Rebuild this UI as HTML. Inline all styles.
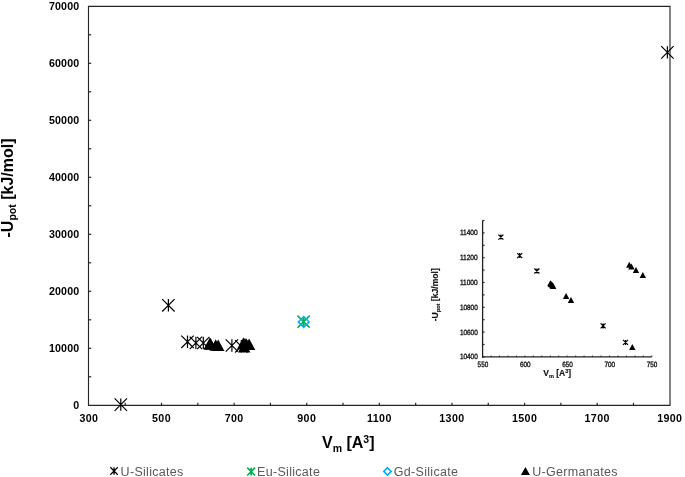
<!DOCTYPE html><html><head><meta charset="utf-8"><style>html,body{margin:0;padding:0;background:#fff;}svg{display:block;}</style></head><body><svg width="685" height="477" viewBox="0 0 685 477">
<rect width="685" height="477" fill="#fff"/>
<path d="M88.5,6.4H670V405.4H88.5Z" fill="none" stroke="#262626" stroke-width="1.15"/>
<line x1="88.5" x2="91.2" y1="376.80" y2="376.80" stroke="#262626" stroke-width="1.2"/>
<line x1="88.5" x2="91.2" y1="348.30" y2="348.30" stroke="#262626" stroke-width="1.2"/>
<line x1="88.5" x2="91.2" y1="319.80" y2="319.80" stroke="#262626" stroke-width="1.2"/>
<line x1="88.5" x2="91.2" y1="291.30" y2="291.30" stroke="#262626" stroke-width="1.2"/>
<line x1="88.5" x2="91.2" y1="262.80" y2="262.80" stroke="#262626" stroke-width="1.2"/>
<line x1="88.5" x2="91.2" y1="234.30" y2="234.30" stroke="#262626" stroke-width="1.2"/>
<line x1="88.5" x2="91.2" y1="205.80" y2="205.80" stroke="#262626" stroke-width="1.2"/>
<line x1="88.5" x2="91.2" y1="177.30" y2="177.30" stroke="#262626" stroke-width="1.2"/>
<line x1="88.5" x2="91.2" y1="148.80" y2="148.80" stroke="#262626" stroke-width="1.2"/>
<line x1="88.5" x2="91.2" y1="120.30" y2="120.30" stroke="#262626" stroke-width="1.2"/>
<line x1="88.5" x2="91.2" y1="91.80" y2="91.80" stroke="#262626" stroke-width="1.2"/>
<line x1="88.5" x2="91.2" y1="63.30" y2="63.30" stroke="#262626" stroke-width="1.2"/>
<line x1="88.5" x2="91.2" y1="34.80" y2="34.80" stroke="#262626" stroke-width="1.2"/>
<line x1="125.21" x2="125.21" y1="405.5" y2="402.8" stroke="#262626" stroke-width="1.2"/>
<line x1="161.51" x2="161.51" y1="405.5" y2="402.8" stroke="#262626" stroke-width="1.2"/>
<line x1="197.82" x2="197.82" y1="405.5" y2="402.8" stroke="#262626" stroke-width="1.2"/>
<line x1="234.12" x2="234.12" y1="405.5" y2="402.8" stroke="#262626" stroke-width="1.2"/>
<line x1="270.43" x2="270.43" y1="405.5" y2="402.8" stroke="#262626" stroke-width="1.2"/>
<line x1="306.74" x2="306.74" y1="405.5" y2="402.8" stroke="#262626" stroke-width="1.2"/>
<line x1="343.04" x2="343.04" y1="405.5" y2="402.8" stroke="#262626" stroke-width="1.2"/>
<line x1="379.35" x2="379.35" y1="405.5" y2="402.8" stroke="#262626" stroke-width="1.2"/>
<line x1="415.66" x2="415.66" y1="405.5" y2="402.8" stroke="#262626" stroke-width="1.2"/>
<line x1="451.96" x2="451.96" y1="405.5" y2="402.8" stroke="#262626" stroke-width="1.2"/>
<line x1="488.27" x2="488.27" y1="405.5" y2="402.8" stroke="#262626" stroke-width="1.2"/>
<line x1="524.58" x2="524.58" y1="405.5" y2="402.8" stroke="#262626" stroke-width="1.2"/>
<line x1="560.88" x2="560.88" y1="405.5" y2="402.8" stroke="#262626" stroke-width="1.2"/>
<line x1="597.19" x2="597.19" y1="405.5" y2="402.8" stroke="#262626" stroke-width="1.2"/>
<line x1="633.49" x2="633.49" y1="405.5" y2="402.8" stroke="#262626" stroke-width="1.2"/>
<g font-family="Liberation Sans, Arial, sans-serif" font-weight="bold" font-size="10.67" fill="#000" letter-spacing="0.1" text-anchor="end">
<text x="79.2" y="409.00">0</text>
<text x="79.2" y="352.00">10000</text>
<text x="79.2" y="295.00">20000</text>
<text x="79.2" y="238.00">30000</text>
<text x="79.2" y="181.00">40000</text>
<text x="79.2" y="124.00">50000</text>
<text x="79.2" y="67.00">60000</text>
<text x="79.2" y="10.00">70000</text>
</g>
<g font-family="Liberation Sans, Arial, sans-serif" font-weight="bold" font-size="10.67" fill="#000" letter-spacing="0.4" text-anchor="middle">
<text x="88.90" y="422">300</text>
<text x="161.51" y="422">500</text>
<text x="234.12" y="422">700</text>
<text x="306.74" y="422">900</text>
<text x="379.35" y="422">1100</text>
<text x="451.96" y="422">1300</text>
<text x="524.58" y="422">1500</text>
<text x="597.19" y="422">1700</text>
<text x="669.80" y="422">1900</text>
</g>
<text x="322" y="448.2" font-family="Liberation Sans, Arial, sans-serif" font-weight="bold" font-size="16" fill="#000">V<tspan font-size="10.5" dy="3.5">m</tspan><tspan dy="-3.5"> [A</tspan><tspan font-size="10.5" dy="-5.2">3</tspan><tspan dy="5.2">]</tspan></text>
<text transform="translate(12.7,237.5) rotate(-90)" font-family="Liberation Sans, Arial, sans-serif" font-weight="bold" font-size="16" fill="#000">-U<tspan font-size="10.5" dy="3.5">pot</tspan><tspan dy="-3.5"> [kJ/mol]</tspan></text>
<path d="M114.60,398.40L127.00,410.80M114.60,410.80L127.00,398.40M120.80,398.40L120.80,410.80" stroke="#000" stroke-width="1.2" fill="none"/>
<path d="M162.20,299.10L174.60,311.50M162.20,311.50L174.60,299.10M168.40,299.10L168.40,311.50" stroke="#000" stroke-width="1.2" fill="none"/>
<path d="M181.30,335.60L193.70,348.00M181.30,348.00L193.70,335.60M187.50,335.60L187.50,348.00" stroke="#000" stroke-width="1.2" fill="none"/>
<path d="M189.70,336.70L202.10,349.10M189.70,349.10L202.10,336.70M195.90,336.70L195.90,349.10" stroke="#000" stroke-width="1.2" fill="none"/>
<path d="M197.10,336.80L209.50,349.20M197.10,349.20L209.50,336.80M203.30,336.80L203.30,349.20" stroke="#000" stroke-width="1.2" fill="none"/>
<path d="M225.70,339.30L238.10,351.70M225.70,351.70L238.10,339.30M231.90,339.30L231.90,351.70" stroke="#000" stroke-width="1.2" fill="none"/>
<path d="M235.10,340.10L247.50,352.50M235.10,352.50L247.50,340.10M241.30,340.10L241.30,352.50" stroke="#000" stroke-width="1.2" fill="none"/>
<path d="M661.20,46.20L673.60,58.60M661.20,58.60L673.60,46.20M667.40,46.20L667.40,58.60" stroke="#000" stroke-width="1.2" fill="none"/>
<path d="M209.80,337.70L216.00,349.30L203.60,349.30Z" fill="#000"/>
<path d="M210.20,337.90L216.40,349.50L204.00,349.50Z" fill="#000"/>
<path d="M210.60,338.10L216.80,349.70L204.40,349.70Z" fill="#000"/>
<path d="M215.70,339.20L221.90,350.80L209.50,350.80Z" fill="#000"/>
<path d="M218.20,339.40L224.40,351.00L212.00,351.00Z" fill="#000"/>
<path d="M243.30,337.40L249.50,349.00L237.10,349.00Z" fill="#000"/>
<path d="M244.00,337.70L250.20,349.30L237.80,349.30Z" fill="#000"/>
<path d="M246.00,337.90L252.20,349.50L239.80,349.50Z" fill="#000"/>
<path d="M249.10,338.40L255.30,350.00L242.90,350.00Z" fill="#000"/>
<path d="M244.20,340.80L250.40,352.40L238.00,352.40Z" fill="#000"/>
<path d="M297.5,315.6L309.7,327.8M297.5,327.8L309.7,315.6" stroke="#00B050" stroke-width="1.6" fill="none"/>
<path d="M303.6,317.2V326.4" stroke="#00B050" stroke-width="2.2" fill="none"/>
<path d="M303.70,316.50L309.10,321.90L303.70,327.30L298.30,321.90Z" stroke="#00B0F0" stroke-width="1.55" fill="none"/>
<line x1="482.60" x2="482.60" y1="220.50" y2="357.60" stroke="#202020" stroke-width="1.3"/>
<line x1="481.95" x2="651.80" y1="356.90" y2="356.90" stroke="#202020" stroke-width="1.4"/>
<line x1="482.60" x2="484.50" y1="356.90" y2="356.90" stroke="#202020" stroke-width="1.2"/>
<line x1="482.60" x2="484.50" y1="344.50" y2="344.50" stroke="#202020" stroke-width="1.2"/>
<line x1="482.60" x2="484.50" y1="332.10" y2="332.10" stroke="#202020" stroke-width="1.2"/>
<line x1="482.60" x2="484.50" y1="319.70" y2="319.70" stroke="#202020" stroke-width="1.2"/>
<line x1="482.60" x2="484.50" y1="307.30" y2="307.30" stroke="#202020" stroke-width="1.2"/>
<line x1="482.60" x2="484.50" y1="294.90" y2="294.90" stroke="#202020" stroke-width="1.2"/>
<line x1="482.60" x2="484.50" y1="282.50" y2="282.50" stroke="#202020" stroke-width="1.2"/>
<line x1="482.60" x2="484.50" y1="270.10" y2="270.10" stroke="#202020" stroke-width="1.2"/>
<line x1="482.60" x2="484.50" y1="257.70" y2="257.70" stroke="#202020" stroke-width="1.2"/>
<line x1="482.60" x2="484.50" y1="245.30" y2="245.30" stroke="#202020" stroke-width="1.2"/>
<line x1="482.60" x2="484.50" y1="232.90" y2="232.90" stroke="#202020" stroke-width="1.2"/>
<line x1="482.60" x2="484.50" y1="220.50" y2="220.50" stroke="#202020" stroke-width="1.2"/>
<line x1="482.60" x2="482.60" y1="356.90" y2="355.50" stroke="#202020" stroke-width="0.9"/>
<line x1="491.06" x2="491.06" y1="356.90" y2="355.50" stroke="#202020" stroke-width="0.9"/>
<line x1="499.52" x2="499.52" y1="356.90" y2="355.50" stroke="#202020" stroke-width="0.9"/>
<line x1="507.98" x2="507.98" y1="356.90" y2="355.50" stroke="#202020" stroke-width="0.9"/>
<line x1="516.44" x2="516.44" y1="356.90" y2="355.50" stroke="#202020" stroke-width="0.9"/>
<line x1="524.90" x2="524.90" y1="356.90" y2="355.50" stroke="#202020" stroke-width="0.9"/>
<line x1="533.36" x2="533.36" y1="356.90" y2="355.50" stroke="#202020" stroke-width="0.9"/>
<line x1="541.82" x2="541.82" y1="356.90" y2="355.50" stroke="#202020" stroke-width="0.9"/>
<line x1="550.28" x2="550.28" y1="356.90" y2="355.50" stroke="#202020" stroke-width="0.9"/>
<line x1="558.74" x2="558.74" y1="356.90" y2="355.50" stroke="#202020" stroke-width="0.9"/>
<line x1="567.20" x2="567.20" y1="356.90" y2="355.50" stroke="#202020" stroke-width="0.9"/>
<line x1="575.66" x2="575.66" y1="356.90" y2="355.50" stroke="#202020" stroke-width="0.9"/>
<line x1="584.12" x2="584.12" y1="356.90" y2="355.50" stroke="#202020" stroke-width="0.9"/>
<line x1="592.58" x2="592.58" y1="356.90" y2="355.50" stroke="#202020" stroke-width="0.9"/>
<line x1="601.04" x2="601.04" y1="356.90" y2="355.50" stroke="#202020" stroke-width="0.9"/>
<line x1="609.50" x2="609.50" y1="356.90" y2="355.50" stroke="#202020" stroke-width="0.9"/>
<line x1="617.96" x2="617.96" y1="356.90" y2="355.50" stroke="#202020" stroke-width="0.9"/>
<line x1="626.42" x2="626.42" y1="356.90" y2="355.50" stroke="#202020" stroke-width="0.9"/>
<line x1="634.88" x2="634.88" y1="356.90" y2="355.50" stroke="#202020" stroke-width="0.9"/>
<line x1="643.34" x2="643.34" y1="356.90" y2="355.50" stroke="#202020" stroke-width="0.9"/>
<line x1="651.80" x2="651.80" y1="356.90" y2="355.50" stroke="#202020" stroke-width="0.9"/>
<g font-family="Liberation Sans, Arial, sans-serif" font-size="7.6" fill="#111" stroke="#111" stroke-width="0.35" text-rendering="geometricPrecision" text-anchor="end">
<text x="477.7" y="359.30" textLength="17.8" lengthAdjust="spacingAndGlyphs">10400</text>
<text x="477.7" y="334.50" textLength="17.8" lengthAdjust="spacingAndGlyphs">10600</text>
<text x="477.7" y="309.70" textLength="17.8" lengthAdjust="spacingAndGlyphs">10800</text>
<text x="477.7" y="284.90" textLength="17.8" lengthAdjust="spacingAndGlyphs">11000</text>
<text x="477.7" y="260.10" textLength="17.8" lengthAdjust="spacingAndGlyphs">11200</text>
<text x="477.7" y="235.30" textLength="17.8" lengthAdjust="spacingAndGlyphs">11400</text>
</g>
<g font-family="Liberation Sans, Arial, sans-serif" font-size="7.6" fill="#111" stroke="#111" stroke-width="0.35" text-rendering="geometricPrecision" text-anchor="middle">
<text x="482.90" y="367.0" textLength="10.6" lengthAdjust="spacingAndGlyphs">550</text>
<text x="525.20" y="367.0" textLength="10.6" lengthAdjust="spacingAndGlyphs">600</text>
<text x="567.50" y="367.0" textLength="10.6" lengthAdjust="spacingAndGlyphs">650</text>
<text x="609.80" y="367.0" textLength="10.6" lengthAdjust="spacingAndGlyphs">700</text>
<text x="652.10" y="367.0" textLength="10.6" lengthAdjust="spacingAndGlyphs">750</text>
</g>
<text x="543.2" y="376.0" textLength="28" lengthAdjust="spacingAndGlyphs" font-family="Liberation Sans, Arial, sans-serif" font-weight="bold" font-size="9.2" fill="#111" stroke="#111" stroke-width="0.15">V<tspan font-size="6" dy="1.8">m</tspan><tspan dy="-1.8"> [A</tspan><tspan font-size="6" dy="-3.5">3</tspan><tspan dy="3.5">]</tspan></text>
<text transform="translate(438.4,321.3) rotate(-90)" font-family="Liberation Sans, Arial, sans-serif" font-weight="bold" font-size="8.6" fill="#111" stroke="#111" stroke-width="0.15">-U<tspan font-size="5.6" dy="1.6">pot</tspan><tspan dy="-1.6"> [kJ/mol]</tspan></text>
<path d="M498.40,234.60L503.40,239.60M498.40,239.60L503.40,234.60M500.90,234.60L500.90,239.60" stroke="#000" stroke-width="1.2" fill="none"/>
<path d="M517.20,253.10L522.20,258.10M517.20,258.10L522.20,253.10M519.70,253.10L519.70,258.10" stroke="#000" stroke-width="1.2" fill="none"/>
<path d="M534.40,268.50L539.40,273.50M534.40,273.50L539.40,268.50M536.90,268.50L536.90,273.50" stroke="#000" stroke-width="1.2" fill="none"/>
<path d="M600.60,323.40L605.60,328.40M600.60,328.40L605.60,323.40M603.10,323.40L603.10,328.40" stroke="#000" stroke-width="1.2" fill="none"/>
<path d="M623.00,339.90L628.00,344.90M623.00,344.90L628.00,339.90M625.50,339.90L625.50,344.90" stroke="#000" stroke-width="1.2" fill="none"/>
<path d="M550.40,280.20L553.60,286.20L547.20,286.20Z" fill="#000"/>
<path d="M551.10,280.90L554.30,286.90L547.90,286.90Z" fill="#000"/>
<path d="M551.80,281.60L555.00,287.60L548.60,287.60Z" fill="#000"/>
<path d="M552.50,282.30L555.70,288.30L549.30,288.30Z" fill="#000"/>
<path d="M553.10,283.00L556.30,289.00L549.90,289.00Z" fill="#000"/>
<path d="M566.10,293.00L569.30,299.00L562.90,299.00Z" fill="#000"/>
<path d="M571.00,297.00L574.20,303.00L567.80,303.00Z" fill="#000"/>
<path d="M629.30,261.70L632.50,267.70L626.10,267.70Z" fill="#000"/>
<path d="M631.40,263.50L634.60,269.50L628.20,269.50Z" fill="#000"/>
<path d="M636.00,266.90L639.20,272.90L632.80,272.90Z" fill="#000"/>
<path d="M642.80,271.90L646.00,277.90L639.60,277.90Z" fill="#000"/>
<path d="M632.30,344.00L635.50,350.00L629.10,350.00Z" fill="#000"/>
<g font-family="Liberation Sans, Arial, sans-serif" font-size="12.5" letter-spacing="0.3" fill="#595959">
<text x="120.6" y="475.6">U-Silicates</text>
<text x="257.1" y="475.6">Eu-Silicate</text>
<text x="393.8" y="475.6">Gd-Silicate</text>
<text x="532.3" y="475.6">U-Germanates</text>
</g>
<path d="M110.35,467.30L117.75,474.70M110.35,474.70L117.75,467.30M114.05,467.30L114.05,474.70" stroke="#000" stroke-width="1.25" fill="none"/>
<path d="M247.25,467.70L255.05,475.50M247.25,475.50L255.05,467.70M251.15,467.70L251.15,475.50" stroke="#00B050" stroke-width="1.7" fill="none"/>
<path d="M387.50,467.70L391.20,471.40L387.50,475.10L383.80,471.40Z" stroke="#00B0F0" stroke-width="1.6" fill="none"/>
<path d="M525.45,466.90L529.95,475.10L520.95,475.10Z" fill="#000"/>
</svg></body></html>
